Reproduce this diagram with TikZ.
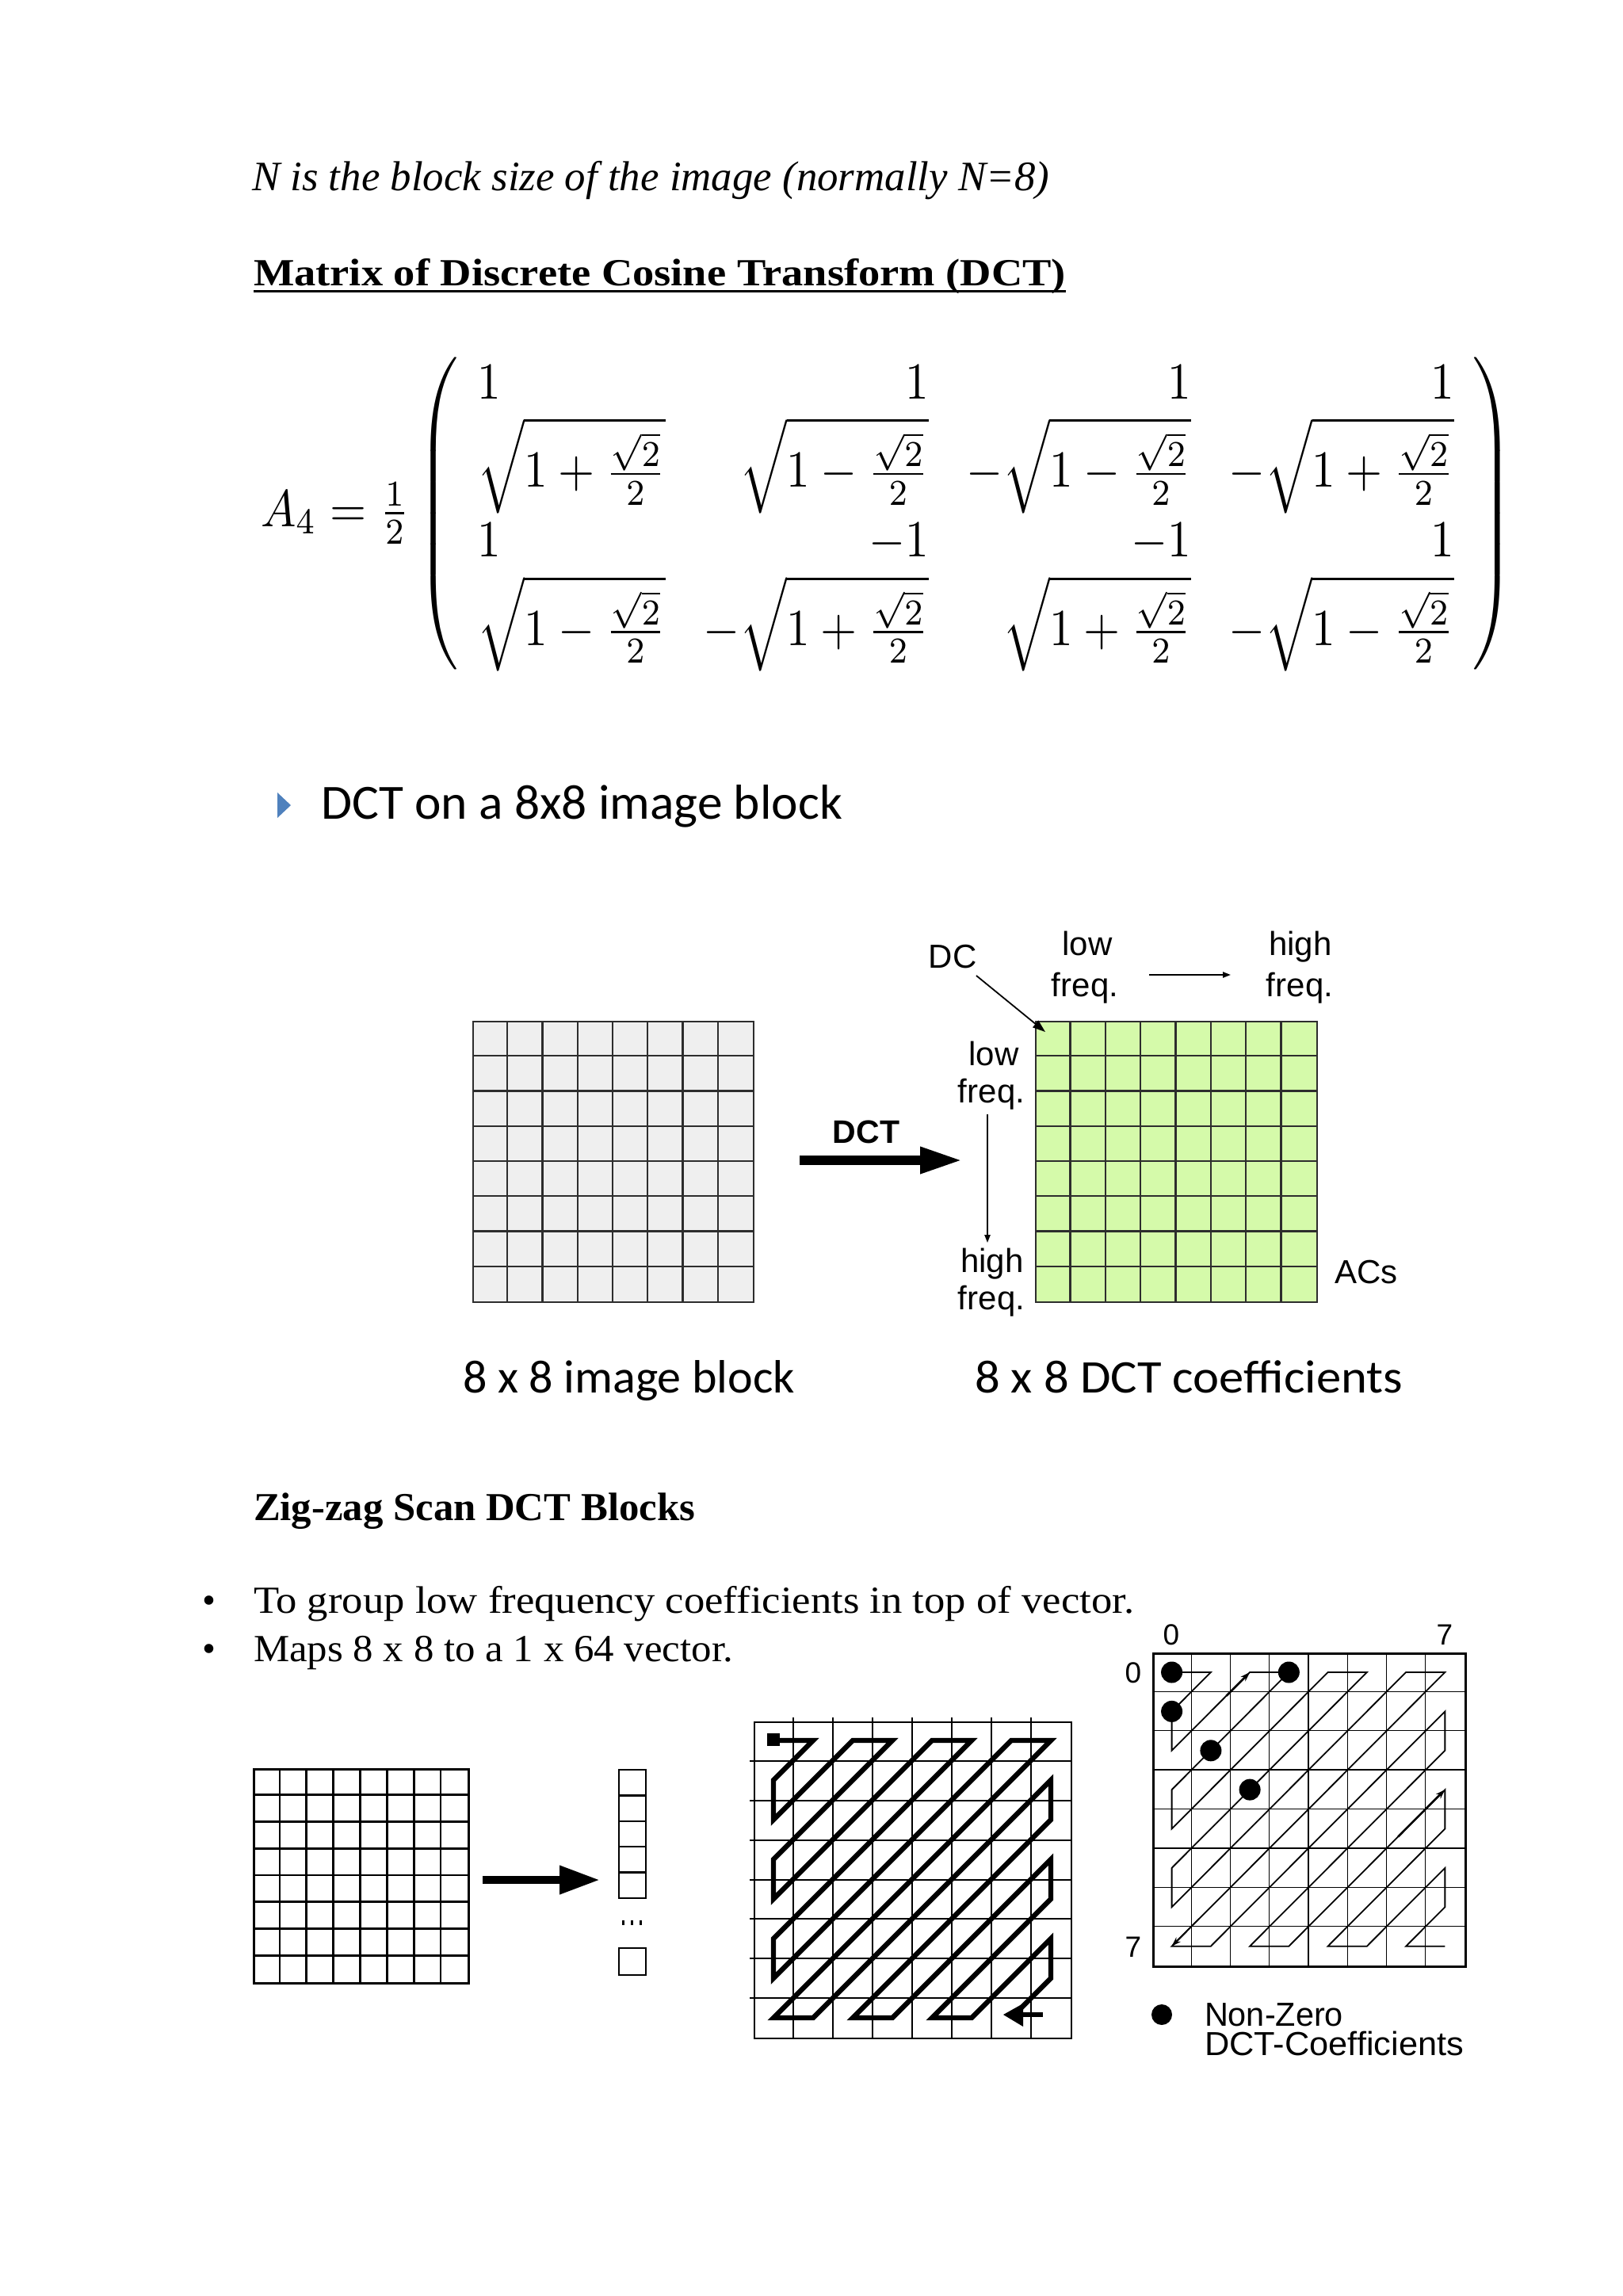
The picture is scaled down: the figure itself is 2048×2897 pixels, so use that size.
\documentclass[tikz,border=0pt]{standalone}
\usepackage{fontspec}
\usepackage{graphicx}
\usetikzlibrary{arrows.meta,calc}
\newfontfamily\carlito{Carlito}
\newfontfamily\arialf{Liberation Sans}
\newfontfamily\serifb{Liberation Serif}
\definecolor{cellgray}{RGB}{239,239,239}
\definecolor{cellgreen}{RGB}{213,250,170}
\definecolor{bulletblue}{RGB}{79,129,189}
\definecolor{gridline}{RGB}{45,45,45}
\begin{document}
\begin{tikzpicture}[x=0.5pt,y=-0.5pt,
  txt/.style={inner sep=0pt,outer sep=0pt},
  lab/.style={inner sep=0pt,outer sep=0pt,font=\arialf\fontsize{21}{25}\selectfont},
  rlab/.style={inner sep=0pt,outer sep=0pt,font=\arialf\fontsize{18.5}{22}\selectfont},
  gridl/.style={draw=gridline,line width=1.2pt},
  thinarr/.style={line width=0.9pt,-{Triangle[length=5pt,width=3.6pt]}},
  zzthick/.style={line width=3.2pt,line join=miter,miter limit=10},
  zzthin/.style={line width=0.9pt,line join=miter},
  dotn/.style={circle,fill=black,inner sep=0pt,minimum size=13.5pt},
  vecbox/.style={draw=black,line width=1.2pt,inner sep=0pt,minimum width=17pt,minimum height=16.2pt}
]
\useasboundingbox (0,0) rectangle (2048,2897);
\fill[white] (0,0) rectangle (2048,2897);

% ---- heading lines
\node[txt,anchor=base west] (l1) at (318,240)
  {\serifb\fontsize{26.4}{31}\selectfont\itshape\resizebox{503pt}{\height}{N is the block size of the image (normally N=8)}};
\node[txt,anchor=base west] (l2) at (320,360)
  {\serifb\fontsize{24.2}{29}\selectfont\bfseries\resizebox{512.5pt}{\height}{Matrix of Discrete Cosine Transform (DCT)}};
\draw[line width=1.5pt] ($(l2.base west)+(0,7)$) -- ($(l2.base east)+(0,7)$);

% ---- matrix
\node[txt,anchor=base west] (eq) at (329,664)
  {\resizebox{790.5pt}{108pt}{\setlength{\arraycolsep}{4pt}$A_4=\frac{1}{2}\left(\begin{array}{lrrr}
  1 & 1 & 1 & 1\\
  \sqrt{1+\frac{\sqrt{2}}{2}} & \sqrt{1-\frac{\sqrt{2}}{2}} & -\sqrt{1-\frac{\sqrt{2}}{2}} & -\sqrt{1+\frac{\sqrt{2}}{2}}\\
  1 & -1 & -1 & 1\\
  \sqrt{1-\frac{\sqrt{2}}{2}} & -\sqrt{1+\frac{\sqrt{2}}{2}} & \sqrt{1+\frac{\sqrt{2}}{2}} & -\sqrt{1-\frac{\sqrt{2}}{2}}
  \end{array}\right)$}};

% ---- bullet DCT on 8x8
\fill[bulletblue] (350,1000) -- (367,1016) -- (350,1032) -- cycle;
\node[txt,anchor=base west] (b0) at (405,1033)
  {\carlito\fontsize{31}{37}\selectfont\resizebox{329pt}{\height}{DCT on a 8x8 image block}};

% ---- gray 8x8 block
\node[draw=gridline,line width=1.2pt,fill=cellgray,minimum width=177pt,minimum height=177pt,inner sep=0pt,anchor=north west] (gblk) at (596,1288) {};
\foreach \i in {1,...,7} {
  \draw[gridl] ({596+\i*44.25},1288) -- ({596+\i*44.25},1642);
  \draw[gridl] (596,{1288+\i*44.25}) -- (950,{1288+\i*44.25});
}
% ---- green 8x8 block
\node[draw=gridline,line width=1.2pt,fill=cellgreen,minimum width=177.5pt,minimum height=177pt,inner sep=0pt,anchor=north west] (cblk) at (1306,1288) {};
\foreach \i in {1,...,7} {
  \draw[gridl] ({1306+\i*44.375},1288) -- ({1306+\i*44.375},1642);
  \draw[gridl] (1306,{1288+\i*44.25}) -- (1661,{1288+\i*44.25});
}
% DCT arrow
\coordinate (da) at (1009,1464);
\coordinate (db) at (1215,1464);
\draw[line width=6pt,-{Triangle[length=27pt,width=15.5pt]}] (da) -- (db);
\node[txt,anchor=base] (dctl) at (1093,1442) {\arialf\bfseries\fontsize{20.5}{24}\selectfont DCT};

% labels
\node[lab,anchor=base] (dcl) at (1202,1221) {DC};
\coordinate (dcs) at (1232,1231);
\coordinate (dct) at (1319,1302);
\draw[line width=0.9pt,-{Triangle[length=8pt,width=5.5pt]}] (dcs) -- (dct);
\node[lab,anchor=base] (lowa) at (1372,1205) {low};
\node[lab,anchor=base] (lowb) at (1369,1257) {freq.};
\node[lab,anchor=base] (higha) at (1641,1205) {high};
\node[lab,anchor=base] (highb) at (1640,1257) {freq.};
\coordinate (ha) at (1450,1230);
\coordinate (hb) at (1553,1230);
\draw[thinarr] (ha) -- (hb);
\node[lab,anchor=base] (llowa) at (1254,1344) {low};
\node[lab,anchor=base] (llowb) at (1251,1391) {freq.};
\node[lab,anchor=base] (lhigha) at (1252,1605) {high};
\node[lab,anchor=base] (lhighb) at (1251,1652) {freq.};
\coordinate (va) at (1246,1406);
\coordinate (vb) at (1246,1568);
\draw[thinarr] (va) -- (vb);
\node[lab,anchor=base] (acs) at (1724,1619) {ACs};

% captions
\node[txt,anchor=base west] (cap1) at (584,1757)
  {\carlito\fontsize{29.5}{35}\selectfont\resizebox{209.5pt}{\height}{8 x 8 image block}};
\node[txt,anchor=base west] (cap2) at (1230,1757)
  {\carlito\fontsize{29.5}{35}\selectfont\resizebox{270pt}{\height}{8 x 8 DCT coefficients}};

% ---- zig-zag section text
\node[txt,anchor=base west] (zh) at (320,1918)
  {\serifb\fontsize{25}{30}\selectfont\bfseries\resizebox{278.5pt}{\height}{Zig-zag Scan DCT Blocks}};
\node[txt,anchor=base] (bu1) at (264,2035) {\serifb\fontsize{24.2}{29}\selectfont\textbullet};
\node[txt,anchor=base west] (bt1) at (320,2035)
  {\serifb\fontsize{24.2}{29}\selectfont\resizebox{555.5pt}{\height}{To group low frequency coefficients in top of vector.}};
\node[txt,anchor=base] (bu2) at (264,2096) {\serifb\fontsize{24.2}{29}\selectfont\textbullet};
\node[txt,anchor=base west] (bt2) at (320,2096)
  {\serifb\fontsize{24.2}{29}\selectfont\resizebox{302.5pt}{\height}{Maps 8 x 8 to a 1 x 64 vector.}};

% ---- small 8x8 grid
\node[draw=black,line width=1.3pt,minimum width=135.5pt,minimum height=135pt,inner sep=0pt,anchor=north west] (sgrid) at (319,2231) {};
\foreach \i in {1,...,7} {
  \draw[line width=1.3pt] ({319+\i*33.875},2231) -- ({319+\i*33.875},2501);
  \draw[line width=1.3pt] (319,{2231+\i*33.75}) -- (590,{2231+\i*33.75});
}
\coordinate (sa) at (609,2372);
\coordinate (sb) at (757,2372);
\draw[line width=5pt,-{Triangle[length=25.5pt,width=17pt]}] (sa) -- (sb);
\foreach \k in {0,...,4} {
  \node[vecbox] (v\k) at (798,{2249.2+32.4*\k}) {};
}
\foreach \xx in {785,796,807} { \fill (\xx,2423) rectangle ({\xx+3},2429); }
\node[vecbox,minimum height=17pt] (vlast) at (798,2475) {};

% ---- middle zig-zag (thick)
\node[draw=black,line width=1pt,minimum width=200pt,minimum height=199.5pt,inner sep=0pt,anchor=north west] (zgrid) at (951,2172) {};
\foreach \i in {1,...,7} {
  \draw[line width=1pt] ({951+\i*50},2167) -- ({951+\i*50},2571);
  \draw[line width=1pt] (946,{2172+\i*49.875}) -- (1351,{2172+\i*49.875});
}
\foreach \c/\r [count=\n] in {0/0,1/0,0/1,0/2,2/0,3/0,0/3,0/4,4/0,5/0,0/5,0/6,6/0,7/0,0/7,1/7,7/1,7/2,2/7,3/7,7/3,7/4,4/7,5/7,7/5,7/6} {
  \coordinate (m\n) at ({976+50*\c},{2196+50*\r});
}
\coordinate (mend) at (1288,2534);
\draw[zzthick] (m1) \foreach \n in {2,...,26} { -- (m\n) } -- (mend);
\fill (968,2187) rectangle (984,2203);
\fill (1266,2542) -- (1291,2528) -- (1291,2557) -- cycle;
\draw[line width=3pt] (1288,2542) -- (1316,2542);

% ---- right zig-zag (thin, with non-zero dots)
\node[draw=black,line width=1.5pt,minimum width=197pt,minimum height=197.5pt,inner sep=0pt,anchor=north west] (rgrid) at (1454,2085) {};
\foreach \i in {1,...,7} {
  \draw[line width=0.7pt] ({1454+\i*49.25},2085) -- ({1454+\i*49.25},2480);
  \draw[line width=0.7pt] (1454,{2085+\i*49.375}) -- (1848,{2085+\i*49.375});
}
\foreach \c/\r [count=\n] in {0/0,1/0,0/1,0/2,2/0,3/0,0/3,0/4,4/0,5/0,0/5,0/6,6/0,7/0,0/7,1/7,7/1,7/2,2/7,3/7,7/3,7/4,4/7,5/7,7/5,7/6,6/7,7/7} {
  \coordinate (r\n) at ({1478.6+49.25*\c},{2110+49.375*\r});
}
\draw[zzthin] (r1) \foreach \n in {2,...,28} { -- (r\n) };
\draw[line width=1.3pt,-{Stealth[length=6pt,width=4pt]}] ($(r4)!0.7!(r5)$) -- (r5);
\draw[line width=1.3pt,-{Stealth[length=6pt,width=4pt]}] ($(r20)!0.7!(r21)$) -- (r21);
\draw[line width=0.9pt,-{Stealth[length=6pt,width=4pt]}] ($(r14)!0.9!(r15)$) -- (r15);
\node[dotn] (nz1) at (r1) {};
\node[dotn] (nz2) at (r3) {};
\node[dotn] (nz3) at (1527.9,2208.8) {};
\node[dotn] (nz4) at (1577.1,2258.1) {};
\node[dotn] (nz5) at (r6) {};
\node[rlab,anchor=base] (rt0) at (1478,2075) {0};
\node[rlab,anchor=base] (rt7) at (1823,2075) {7};
\node[rlab,anchor=base] (rl0) at (1430,2123) {0};
\node[rlab,anchor=base] (rl7) at (1430,2469) {7};
\node[dotn,minimum size=13pt] (legdot) at (1466,2542) {};
\node[txt,anchor=base west] (leg1) at (1520,2556)
  {\arialf\fontsize{21}{25}\selectfont\resizebox{87.5pt}{\height}{Non-Zero}};
\node[txt,anchor=base west] (leg2) at (1520,2593)
  {\arialf\fontsize{21}{25}\selectfont\resizebox{163.5pt}{\height}{DCT-Coefficients}};
\end{tikzpicture}
\end{document}
